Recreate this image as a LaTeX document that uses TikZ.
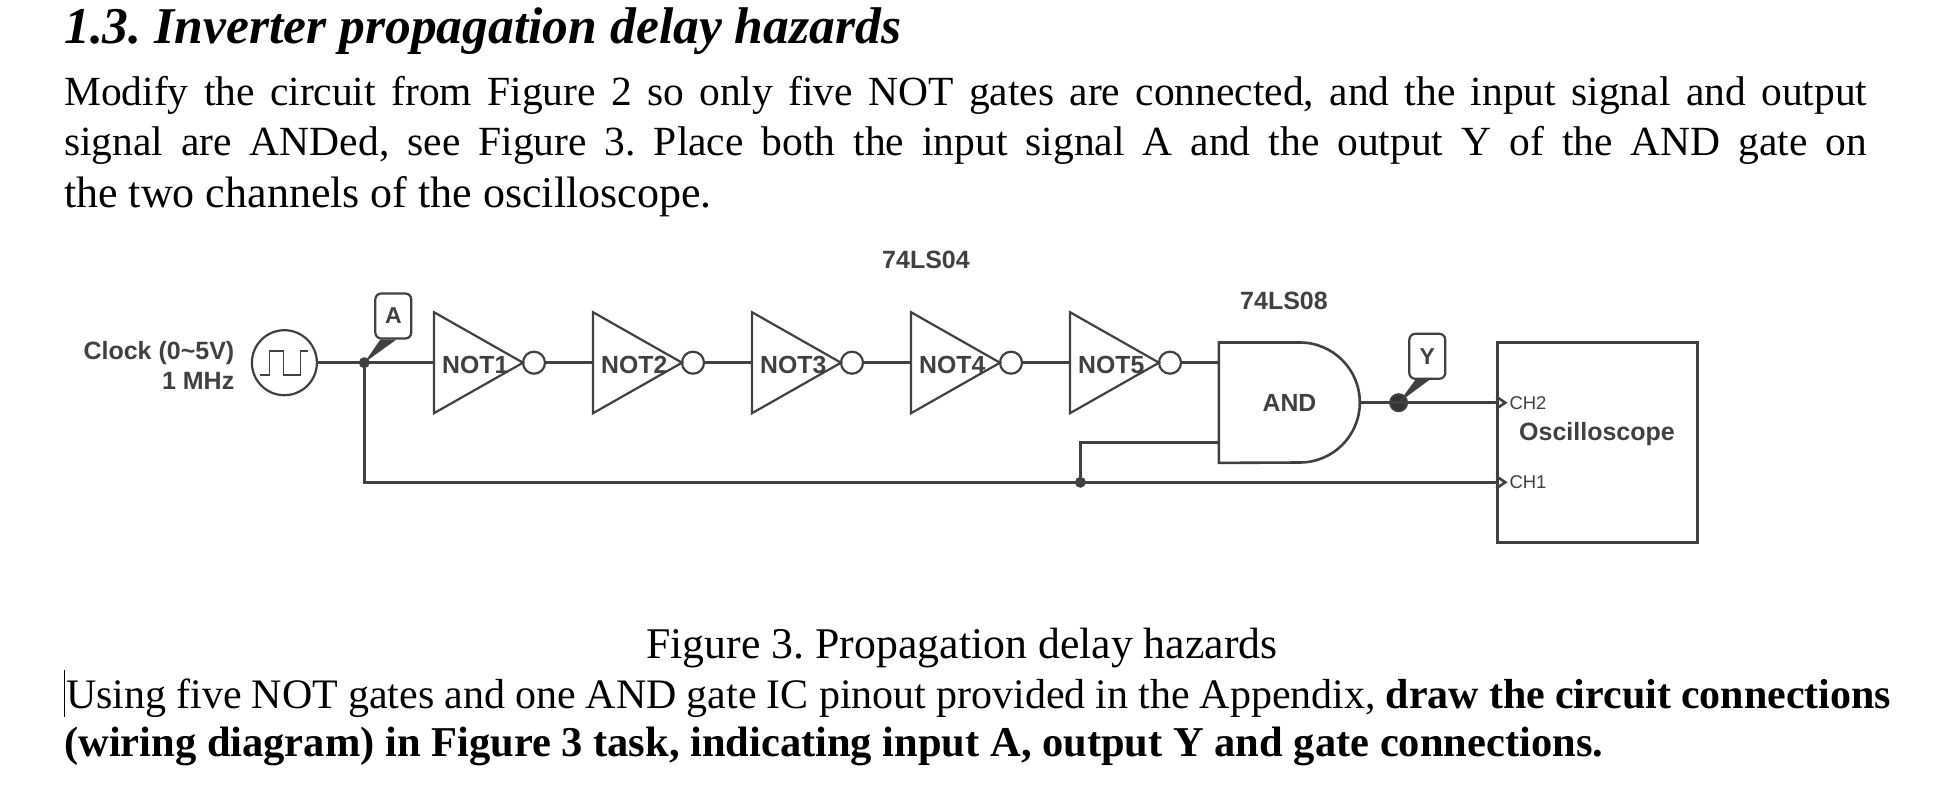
\documentclass[tikz,border=0pt]{standalone}
\usepackage{fontspec}
\setmainfont{Liberation Serif}
\setsansfont{Liberation Sans}
\usetikzlibrary{positioning,calc,shapes.geometric}
\definecolor{wirecol}{HTML}{404040}
\frenchspacing
\tikzset{
  wire/.style={draw=wirecol,line width=2.6pt},
  notgate/.style={isosceles triangle,isosceles triangle stretches,shape border rotate=0,
    minimum width=101pt,minimum height=89pt,inner sep=0pt,outer sep=0pt,draw=wirecol,line width=2.2pt},
  bubble/.style={circle,draw=wirecol,line width=2.2pt,minimum size=22pt,inner sep=0pt,outer sep=0pt},
  gatelabel/.style={text=wirecol,font=\sffamily\bfseries\fontsize{24.8}{25}\selectfont,inner sep=0pt},
  partlabel/.style={text=wirecol,font=\sffamily\bfseries\fontsize{25}{30}\selectfont,inner sep=0pt},
  chlabel/.style={text=wirecol,font=\sffamily\fontsize{18.5}{20}\selectfont,inner sep=0pt,anchor=west},
  probe/.style={rectangle,rounded corners=6pt,draw=wirecol,line width=2.2pt,text=wirecol,
    font=\sffamily\bfseries\fontsize{23}{24}\selectfont,minimum width=36pt,minimum height=45pt,inner sep=0pt},
  dot/.style={circle,fill=wirecol,minimum size=11pt,inner sep=0pt},
  bodyline/.style={anchor=base west,inner sep=0pt,font=\fontsize{41.5}{44}\selectfont},
}
\begin{document}
\begin{tikzpicture}[x=1pt,y=-1pt]
        \useasboundingbox (0,0) rectangle (1933,792);

        % Text above the circuit
        \node[anchor=base west,inner sep=0pt,font=\bfseries\itshape\fontsize{51.6}{54}\selectfont] (title) at (64,44) {1.3. Inverter propagation delay hazards};
        \node[bodyline] (line1) at (64,105) {\makebox[1803pt][s]{Modify the circuit from Figure 2 so only five NOT gates are connected, and the input signal and output}};
        \node[bodyline] (line2) at (64,155) {\makebox[1803pt][s]{signal are ANDed, see Figure 3. Place both the input signal A and the output Y of the AND gate on}};
        \node[bodyline,font=\fontsize{44}{46}\selectfont] (line3) at (64,207) {the two channels of the oscilloscope.};

        % Define gates
        \node[notgate,anchor=west] (not1) at (434,362.7) {};
        \node[bubble,right=0pt of not1.apex] (bub1) {};
        \node[notgate,right=48pt of bub1] (not2) {};
        \node[bubble,right=0pt of not2.apex] (bub2) {};
        \node[notgate,right=48pt of bub2] (not3) {};
        \node[bubble,right=0pt of not3.apex] (bub3) {};
        \node[notgate,right=48pt of bub3] (not4) {};
        \node[bubble,right=0pt of not4.apex] (bub4) {};
        \node[notgate,right=48pt of bub4] (not5) {};
        \node[bubble,right=0pt of not5.apex] (bub5) {};
        \foreach \i in {1,...,5}
            \node[gatelabel,anchor=west] at ($(not\i.west)+(8,2.5)$) {NOT\i};

        \node[minimum width=141pt,minimum height=120pt,inner sep=0pt,gatelabel] (andgate) at (1289.5,402.7) {AND};
        \draw[draw=wirecol,line width=2.6pt] (andgate.north west) -- ++(81,0) arc (-90:90:60) -- (andgate.south west) -- cycle;

        \node[minimum size=65pt,circle,draw=wirecol,line width=2.2pt,inner sep=0pt] (clock) at (284.4,362.7) {};
        \draw[draw=wirecol,line width=1.8pt] ($(clock)+(-24,12)$) -- ++(9,0) -- ++(0,-24) -- ++(14,0) -- ++(0,24) -- ++(17,0) -- ++(0,-24) -- ++(8,0);
        \node[partlabel,align=right,anchor=east] (clocktext) at (234.5,365) {Clock (0\textasciitilde5V)\\1 MHz};

        \node[draw=wirecol,line width=2.6pt,minimum width=200pt,minimum height=200pt,inner sep=0pt] (scope) at (1597.6,442.7) {};
        \node[partlabel] (scopetext) at (1597,434) {Oscilloscope};

        \node[partlabel] (ls04) at (926,260) {74LS04};
        \node[partlabel] (ls08) at (1284,300.7) {74LS08};

        % Probes
        \node[dot] (dotA) at (364.3,362.7) {};
        \node[dot] (dotB) at (1080.4,482.3) {};
        \node[circle,fill=wirecol!80!black,draw=wirecol,line width=2pt,minimum size=17pt,inner sep=0pt] (dotY) at (1398.6,402.7) {};
        \node[probe] (probeA) at (393.3,316) {A};
        \node[probe] (probeY) at (1427.3,356.3) {Y};
        \fill[wirecol] (dotA.center) -- ($(probeA.south)+(-13,0)$) -- ($(probeA.south)+(3,0)$) -- cycle;
        \fill[wirecol] (dotY.center) -- ($(probeY.south)+(-12,0)$) -- ($(probeY.south)+(2,0)$) -- cycle;

        \coordinate (ch2) at (scope.west |- dotY);
        \coordinate (ch1) at (scope.west |- dotB);
        \coordinate (corner) at (dotA |- dotB);
        \coordinate (andin) at ($(andgate.west)+(0,39.6)$);
        \node[chlabel] (ch2text) at ($(ch2)+(13,0)$) {CH2};
        \node[chlabel] (ch1text) at ($(ch1)+(13,0)$) {CH1};

        % Draw wires
        \path[wire]
            (clock.east) -- (not1.west)
            (bub1.east) -- (not2.west)
            (bub2.east) -- (not3.west)
            (bub3.east) -- (not4.west)
            (bub4.east) -- (not5.west)
            (bub5.east) -- (bub5.east -| andgate.west)
            (dotA) -- (corner) -- (ch1)
            (dotB) |- (andin)
            (andgate.east) -- (ch2);
        \foreach \ch in {ch1,ch2}
            \draw[wire] ($(\ch)+(0,-6)$) -- ++(9,6) -- ++(-9,6);

        % Text below the circuit
        \node[anchor=base,inner sep=0pt,font=\fontsize{43.8}{46}\selectfont] (caption) at (962,658) {Figure 3. Propagation delay hazards};
        \node[bodyline,font=\fontsize{42}{44}\selectfont] (line4) at (66,708) {\makebox[1825pt][s]{Using five NOT gates and one AND gate IC pinout provided in the Appendix, \textbf{draw the circuit connections}}};
        \node[bodyline,font=\fontsize{42.5}{44}\selectfont] (line5) at (64,756) {\makebox[1539pt][s]{\textbf{(wiring diagram) in Figure 3 task, indicating input A, output Y and gate connections.}}};
        \draw[draw=black,line width=1pt] (line4.base west) ++(-1.3,-38) -- ++(0,47);
        \end{tikzpicture}
\end{document}
